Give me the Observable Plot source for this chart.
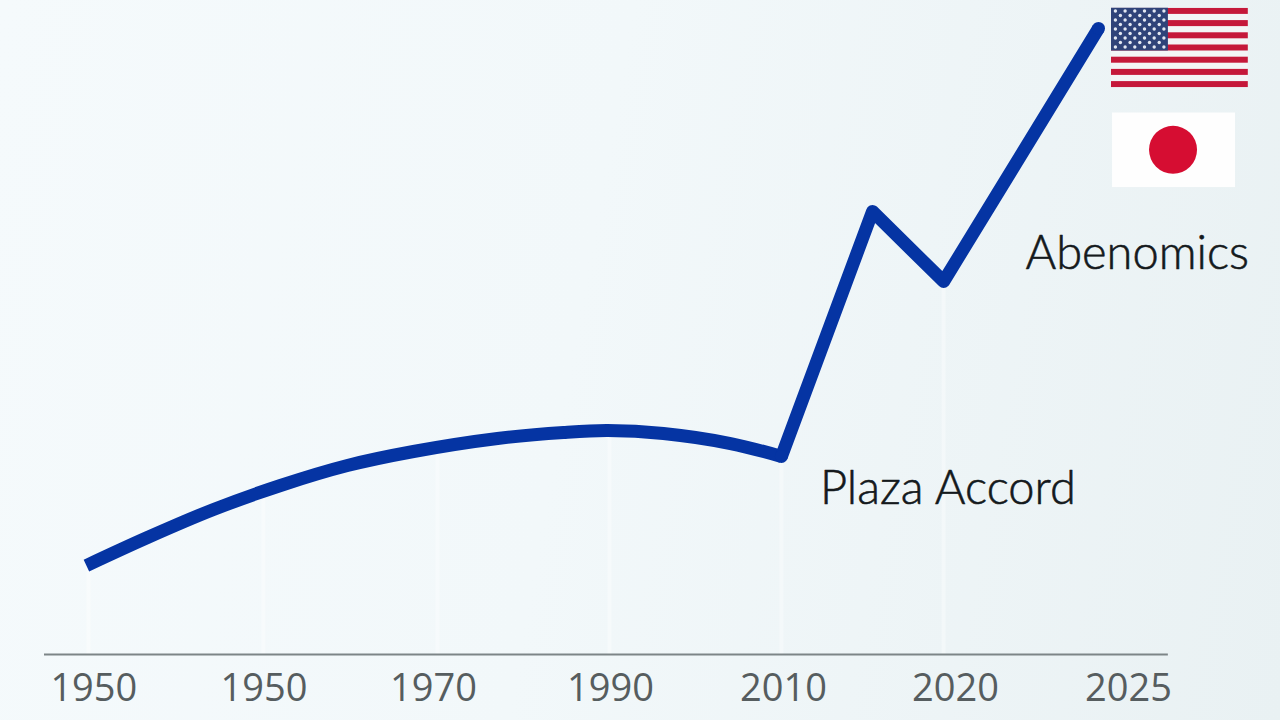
<!DOCTYPE html>
<html>
<head>
<meta charset="utf-8">
<script src="https://cdn.jsdelivr.net/npm/d3@7"></script>
<script src="https://cdn.jsdelivr.net/npm/@observablehq/plot@0.6"></script>
<style>
html,body{margin:0;padding:0;width:1280px;height:720px;overflow:hidden;background:linear-gradient(100deg,#f5fafc 0%,#f2f8fa 45%,#e9f1f3 100%);}
svg{display:block}
</style>
</head>
<body>
<div id="chart"></div>
<script>
const lineX = [-0.012,0.342,0.725,1.113,1.501,1.884,2.371,2.754,3.009,3.333,3.722,4.017,4.545,4.957,5.855];
const lineY = [14.35,18.87,23.39,27.26,30.48,32.74,34.84,35.81,36.13,35.65,34.03,31.94,71.45,60.16,100.97];
const smoothCount = 12;
const tickPos = [0.031,1.017,2.0,3.026,4.029,5.026,6.029];
const tickLabels = ["1950","1950","1970","1990","2010","2020","2025"];
const gridX = [0,1.014,2.023,3.02,4.017,4.957];
const gridTop = [14.35,27,33,36.1,31.9,60.2];
const noteLabels = ["Plaza Accord","Abenomics"];
const noteX = [4.24,5.432];
const noteY = [26.7,64.6];
const flagNames = ["us","jp"];
const flagX = [6.324,6.29];
const flagY = [97.9,81.4];

const line = lineX.map((x,i)=>({x,y:lineY[i]}));
const smoothPart = line.slice(0,smoothCount);
const sharpPart = line.slice(smoothCount-1);
const roundEnds = [line[smoothCount-1],line[line.length-1]];
const grid = gridX.map((x,i)=>({x,y:gridTop[i]}));
const notes = noteLabels.map((t,i)=>({t,x:noteX[i],y:noteY[i]}));

function usFlag(){
  let s = '<svg xmlns="http://www.w3.org/2000/svg" viewBox="0 0 137 80" preserveAspectRatio="none"><rect width="137" height="80" fill="#f3f4f6"/>';
  for(let i=0;i<7;i++) s += `<rect x="0" y="${(i*12.2+0.4).toFixed(2)}" width="137" height="6" fill="#c5183a"/>`;
  s += '<rect x="0" y="0" width="57" height="43" fill="#2f4379"/>';
  for(let r=0;r<9;r++){
    const n = r%2?5:6;
    for(let c=0;c<n;c++){
      const x = (r%2?9.5:4.5)+c*9.7, y = 3.5+r*4.5;
      s += `<circle cx="${x.toFixed(1)}" cy="${y.toFixed(1)}" r="1.7" fill="#e3e8f2"/>`;
    }
  }
  return "data:image/svg+xml;utf8,"+encodeURIComponent(s+'</svg>');
}
function jpFlag(){
  const s = '<svg xmlns="http://www.w3.org/2000/svg" viewBox="0 0 123 75" preserveAspectRatio="none"><rect width="123" height="75" fill="#fefefe"/><circle cx="61" cy="37.5" r="24" fill="#d60d32"/></svg>';
  return "data:image/svg+xml;utf8,"+encodeURIComponent(s);
}
const flagSrc = {us:usFlag(), jp:jpFlag()};
const flags = flagNames.map((f,i)=>({src:flagSrc[f],x:flagX[i],y:flagY[i],w:f==="us"?137:123,h:f==="us"?80:75}));

const lineColor = "#0534a3";
const chart = Plot.plot({
  width:1280,height:720,
  marginLeft:0,marginRight:0,marginTop:0,marginBottom:66,
  style:{background:"transparent",fontFamily:"'Open Sans'"},
  x:{domain:[-0.5101,6.9101],axis:null},
  y:{domain:[0,105.48],axis:null},
  marks:[
    Plot.ruleX(grid,{x:"x",y1:0,y2:"y",stroke:"#ffffff",strokeWidth:4,strokeOpacity:0.35}),
    Plot.ruleY([0],{x1:-0.255,x2:6.26,stroke:"#7d8587",strokeWidth:2}),
    Plot.axisX({
      ticks:tickPos,
      tickSize:0,
      tickPadding:20,
      tickFormat:d=>tickLabels[tickPos.indexOf(d)],
      label:null,
      fontSize:38,
      fill:"#565d5f"
    }),
    Plot.line(smoothPart,{x:"x",y:"y",curve:"catmull-rom",stroke:lineColor,strokeWidth:13,strokeLinecap:"butt"}),
    Plot.line(sharpPart,{x:"x",y:"y",stroke:lineColor,strokeWidth:13,strokeLinejoin:"round",strokeLinecap:"butt"}),
    Plot.dot(roundEnds,{x:"x",y:"y",r:6.5,fill:lineColor}),
    Plot.text(notes,{x:"x",y:"y",text:"t",textAnchor:"start",lineAnchor:"middle",fontSize:47,fontFamily:"Lato",fontWeight:300,fill:"#14191c",stroke:"#14191c",strokeWidth:0.6}),
    Plot.image(flags,{x:"x",y:"y",src:"src",width:"w",height:"h",preserveAspectRatio:"none"})
  ]
});
document.getElementById("chart").append(chart);
</script>
</body>
</html>
